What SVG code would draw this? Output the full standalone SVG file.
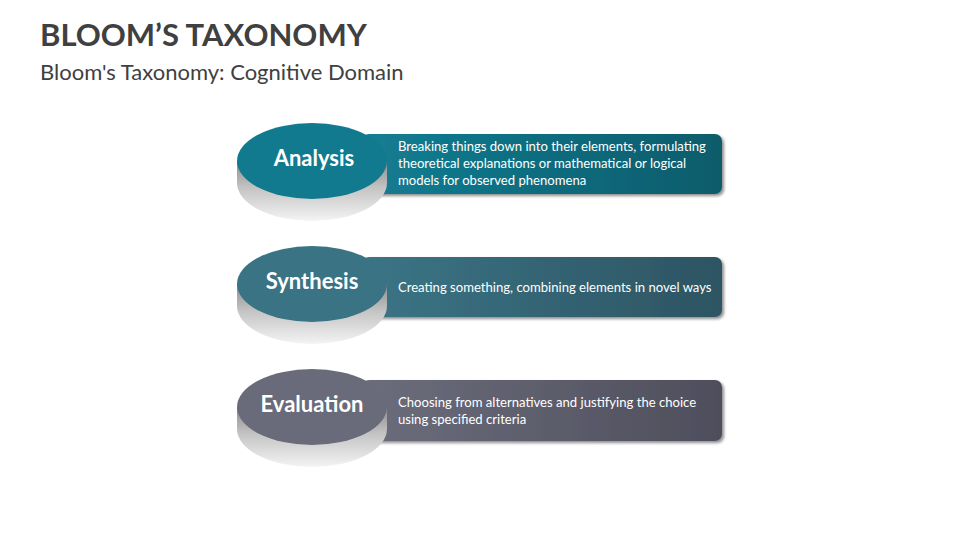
<svg xmlns="http://www.w3.org/2000/svg" width="960" height="540" viewBox="0 0 960 540">
<defs>
<style>
.title{font-family:Lato,"Open Sans","Liberation Sans",sans-serif;font-weight:700;font-size:31px;fill:#404040}
.sub{font-family:Lato,"Open Sans","Liberation Sans",sans-serif;font-size:22px;fill:#404040}
.lbl{font-family:Lato,"Open Sans","Liberation Sans",sans-serif;font-weight:700;font-size:22px;fill:#ffffff;text-anchor:middle}
.desc{font-family:Lato,"Open Sans","Liberation Sans",sans-serif;font-size:13.1px;fill:#ffffff}
</style>
<linearGradient id="cyl" x1="0" y1="0" x2="0" y2="1">
<stop offset="0" stop-color="#8c8c8c"/>
<stop offset="0.45" stop-color="#c4c4c4"/>
<stop offset="1" stop-color="#f4f4f4"/>
</linearGradient>
<linearGradient id="gA" x1="0" y1="0" x2="1" y2="0">
<stop offset="0" stop-color="#137d92"/>
<stop offset="1" stop-color="#0b5c6b"/>
</linearGradient>
<linearGradient id="gS" x1="0" y1="0" x2="1" y2="0">
<stop offset="0" stop-color="#3b7586"/>
<stop offset="1" stop-color="#2d5462"/>
</linearGradient>
<linearGradient id="gE" x1="0" y1="0" x2="1" y2="0">
<stop offset="0" stop-color="#6c6d7c"/>
<stop offset="1" stop-color="#4e4e5c"/>
</linearGradient>
<filter id="sh" x="-10%" y="-20%" width="120%" height="160%">
<feGaussianBlur in="SourceAlpha" stdDeviation="1.5"/>
<feOffset dx="1.5" dy="2" result="b"/>
<feComponentTransfer><feFuncA type="linear" slope="0.45"/></feComponentTransfer>
<feMerge><feMergeNode/><feMergeNode in="SourceGraphic"/></feMerge>
</filter>
</defs>
<rect width="960" height="540" fill="#ffffff"/>
<text class="title" x="40" y="46">BLOOM’S TAXONOMY</text>
<text class="sub" x="40" y="80">Bloom's Taxonomy: Cognitive Domain</text>

<g id="connectors"></g>

<g id="analysis">
<rect x="362" y="134" width="360" height="60" rx="7" fill="url(#gA)" filter="url(#sh)"/>
<path d="M237,161 L237,183 A75,38 0 0 0 387,183 L387,161 Z" fill="url(#cyl)"/>
<ellipse cx="312" cy="161" rx="75" ry="38" fill="#117a8f"/>
<text class="lbl" x="314" y="166">Analysis</text>
<text class="desc" x="398" y="151">Breaking things down into their elements, formulating</text>
<text class="desc" x="398" y="168">theoretical explanations or mathematical or logical</text>
<text class="desc" x="398" y="185">models for observed phenomena</text>
</g>

<g id="synthesis">
<rect x="362" y="257" width="360" height="60" rx="7" fill="url(#gS)" filter="url(#sh)"/>
<path d="M237,284 L237,306 A75,38 0 0 0 387,306 L387,284 Z" fill="url(#cyl)"/>
<ellipse cx="312" cy="284" rx="75" ry="38" fill="#3a7384"/>
<text class="lbl" x="312" y="289">Synthesis</text>
<text class="desc" x="398" y="292">Creating something, combining elements in novel ways</text>
</g>

<g id="evaluation">
<rect x="362" y="380" width="360" height="61" rx="7" fill="url(#gE)" filter="url(#sh)"/>
<path d="M237,407 L237,429 A75,38 0 0 0 387,429 L387,407 Z" fill="url(#cyl)"/>
<ellipse cx="312" cy="407" rx="75" ry="38" fill="#6a6b7a"/>
<text class="lbl" x="312" y="412">Evaluation</text>
<text class="desc" x="398" y="407">Choosing from alternatives and justifying the choice</text>
<text class="desc" x="398" y="424">using specified criteria</text>
</g>
</svg>
